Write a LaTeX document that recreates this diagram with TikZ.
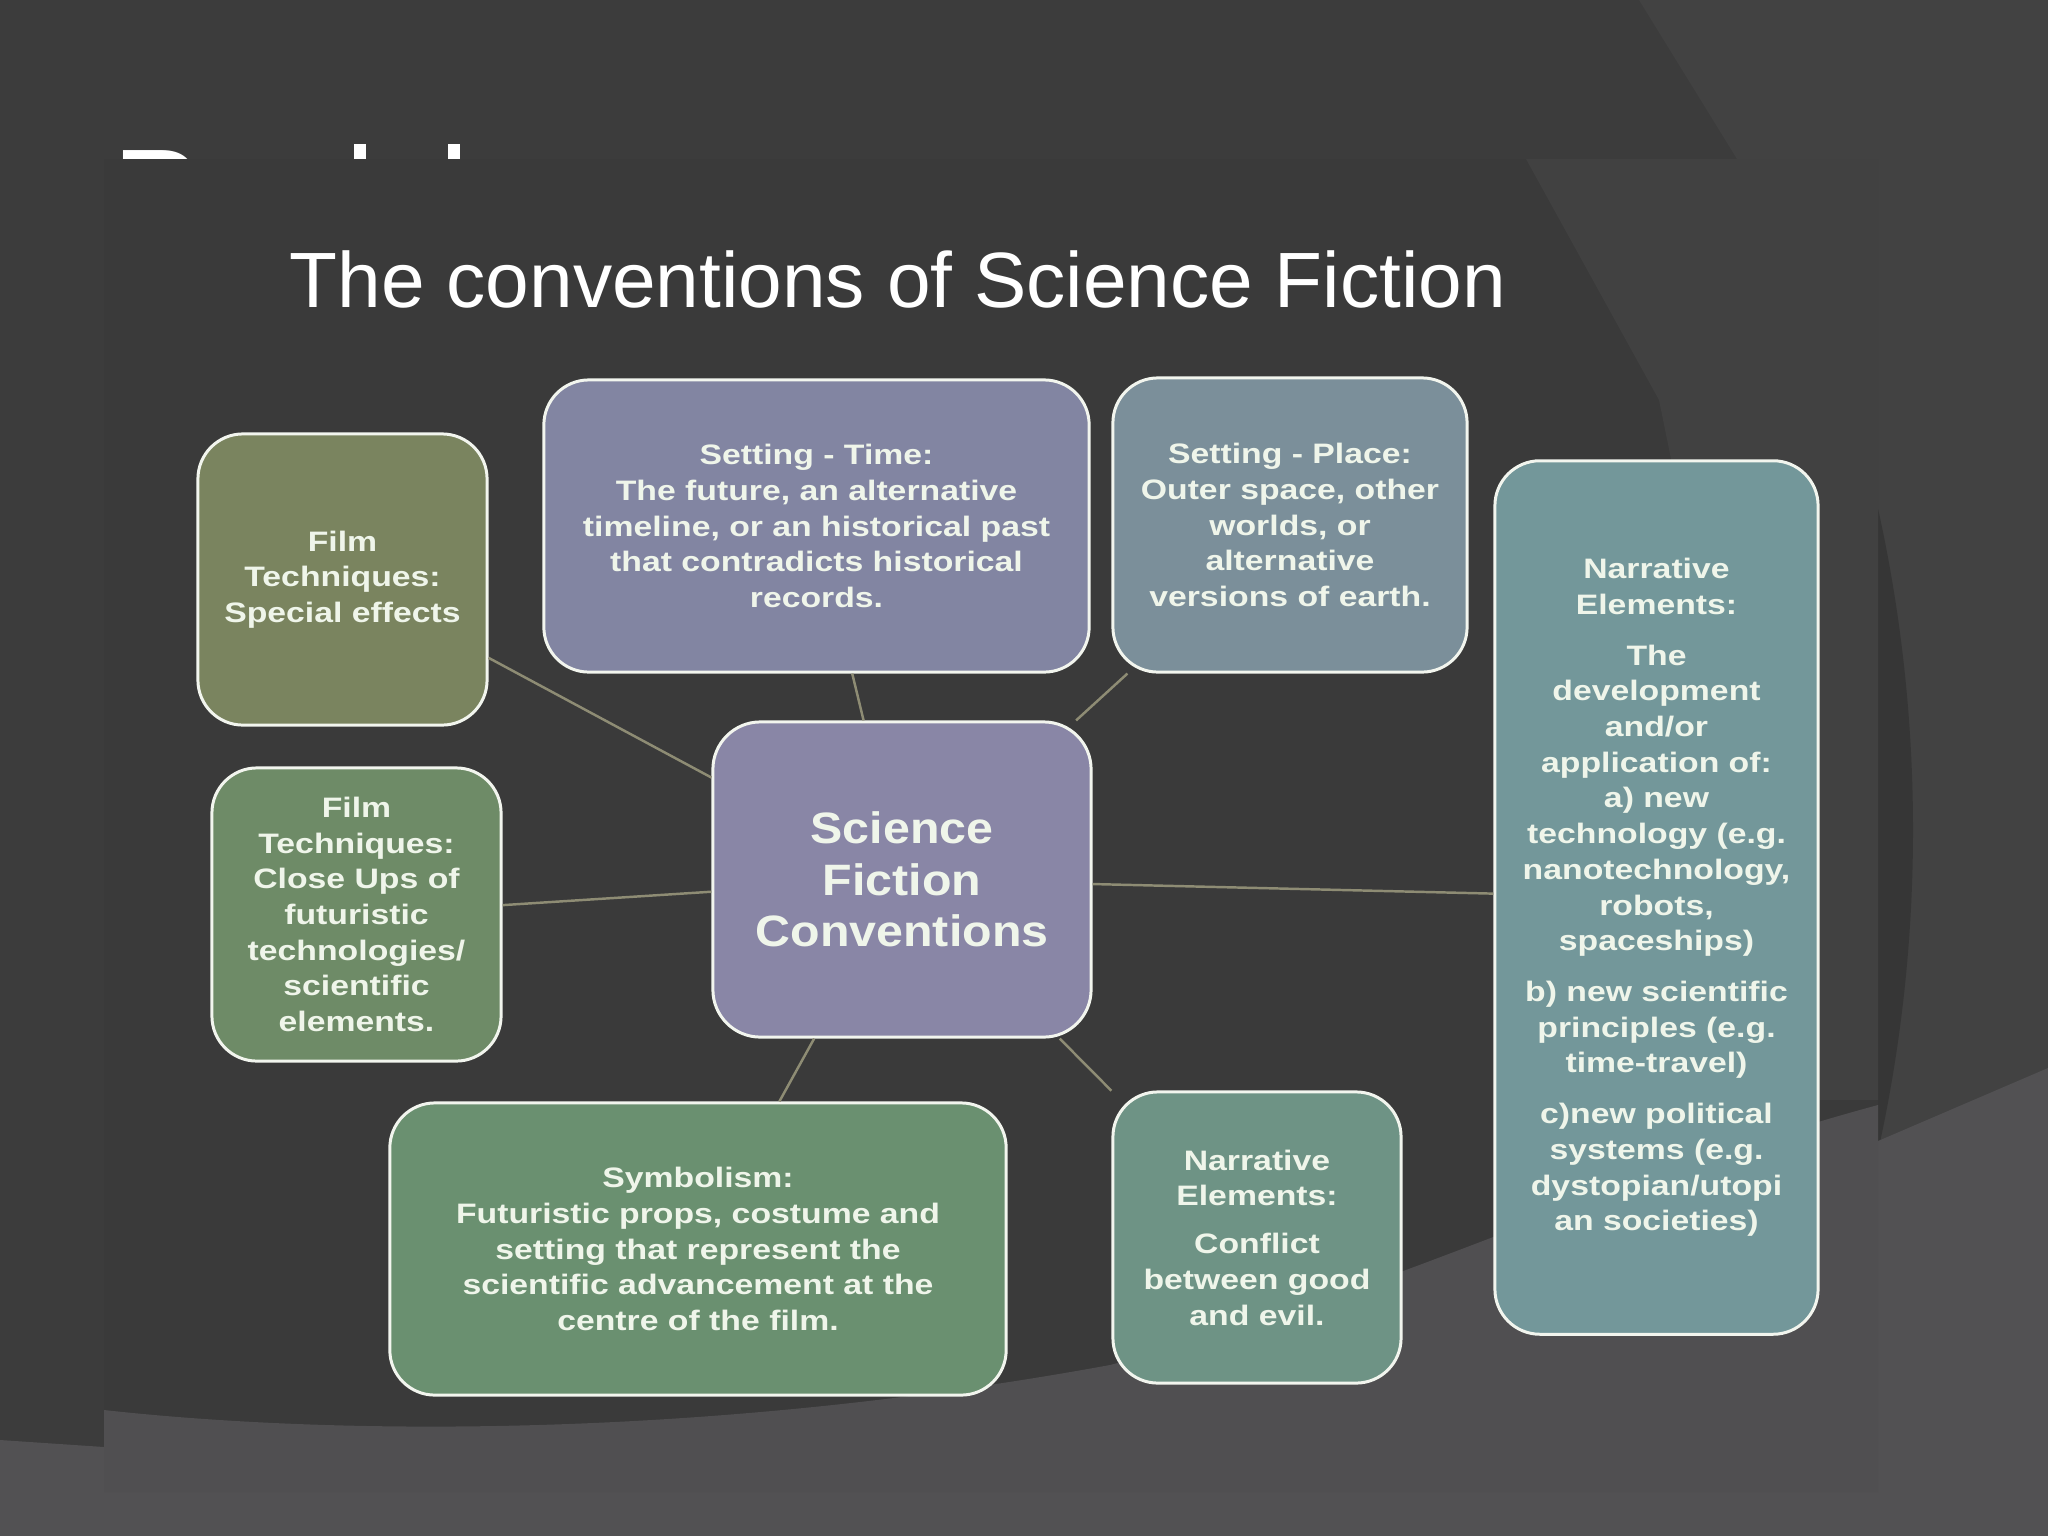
\documentclass[tikz,border=0pt]{standalone}
\usepackage{fontspec}
\setmainfont{Liberation Sans}
\newfontfamily\boxfont[FakeStretch=1.2]{Liberation Sans}
\newfontfamily\ctrfont[FakeStretch=1.1]{Liberation Sans}
\definecolor{bgdark}{HTML}{3C3C3C}
\definecolor{bgmid}{HTML}{424242}
\definecolor{bgdeep}{HTML}{363636}
\definecolor{bglight}{HTML}{525153}
\definecolor{bginner}{HTML}{3A3A3A}
\definecolor{bginmid}{HTML}{414141}
\definecolor{bglighttwo}{HTML}{504F51}
\definecolor{txtc}{HTML}{EFF5EA}
\definecolor{edgec}{HTML}{F2F5EE}
\definecolor{connc}{HTML}{8E8C74}
\definecolor{cOlive}{HTML}{7A845F}
\definecolor{cLav}{HTML}{8285A2}
\definecolor{cSlate}{HTML}{7B8F9A}
\definecolor{cTeal}{HTML}{73979A}
\definecolor{cGreen}{HTML}{6E8B67}
\definecolor{cCenter}{HTML}{8986A6}
\definecolor{cSym}{HTML}{6A9070}
\definecolor{cConf}{HTML}{6E9385}
\tikzset{
  sfbox/.style={draw=edgec, line width=0.85pt, rounded corners=12.8pt, inner sep=0pt,
    align=center, text=txtc, font=\boxfont\bfseries\fontsize{8}{10.15}\selectfont},
  ctrbox/.style={sfbox, rounded corners=13.5pt, font=\ctrfont\bfseries\fontsize{12.5}{14.7}\selectfont},
  conn/.style={draw=connc, line width=0.7pt},
  titletext/.style={text=white, inner sep=0pt, font=\fontsize{22.3}{26}\selectfont}
}
\begin{document}
\begin{tikzpicture}[x=0.01cm,y=-0.01cm]
\useasboundingbox (0,0) rectangle (2048,1536);
% ---- background ----
\fill[bgdark] (0,0) rectangle (2048,1536);
\fill[bgmid] (1639,0) -- (1737,159) -- (2048,159) -- (2048,0) -- cycle;
\fill[bgmid] (1878,159) rectangle (2048,1536);
\begin{scope}
  \clip (1878,159) rectangle (2048,1536);
  \fill[bgdeep] (433,830) circle (1480);
\end{scope}
\fill[bglight] (1878,1141) -- (2048,1068) -- (2048,1536) -- (1878,1536) -- cycle;
\fill[bglight] (0,1492) rectangle (2048,1536);
\fill[bglight] (0,1440) -- (104,1447) -- (104,1492) -- (0,1492) -- cycle;
% hidden slide title (only its tops show)
\begin{scope}
  \clip (100,100) rectangle (520,159);
  \node[anchor=base west, text=white, inner sep=0pt, font=\fontsize{38}{40}\selectfont] (hiddenP) at (112,242) {P};
  \fill[white] (354,144) rectangle (366,159);
  \fill[white] (448,144) rectangle (460,159);
\end{scope}
% pasted picture area
\fill[bginner] (104,159) rectangle (1878,1492);
\fill[bginmid] (1526,159) -- (1659,400) -- (1720,700) -- (1745,1100) -- (1878,1100) -- (1878,159) -- cycle;
\fill[bglighttwo] (104,1410) .. controls (330,1435) and (700,1440) .. (1110,1365)
   .. controls (1400,1290) and (1600,1180) .. (1878,1105) -- (1878,1492) -- (104,1492) -- cycle;
% ---- title ----
\node[titletext, anchor=base] (title) at (898,307) {The conventions of Science Fiction};
% ---- boxes ----
\node[sfbox, fill=cOlive, minimum width=2.89cm, minimum height=2.91cm] (fs) at (342.5,579.5)
  {Film\\Techniques:\\Special effects};
\node[sfbox, fill=cLav, minimum width=5.45cm, minimum height=2.92cm] (st) at (816.5,526)
  {Setting - Time:\\The future, an alternative\\timeline, or an historical past\\that contradicts historical\\records.};
\node[sfbox, fill=cSlate, minimum width=3.54cm, minimum height=2.94cm] (sp) at (1290,525)
  {Setting - Place:\\Outer space, other\\worlds, or\\alternative\\versions of earth.};
\node[sfbox, fill=cTeal, minimum width=3.23cm, minimum height=8.73cm] (ne) at (1656.5,897.5)
  {Narrative\\Elements:\\[4.3pt]The\\development\\and/or\\application of:\\a) new\\technology (e.g.\\nanotechnology,\\robots,\\spaceships)\\[4.3pt]b) new scientific\\principles (e.g.\\time-travel)\\[4.3pt]c)new political\\systems (e.g.\\dystopian/utopi\\an societies)};
\node[sfbox, fill=cGreen, minimum width=2.89cm, minimum height=2.93cm] (cu) at (356.5,914.5)
  {Film\\Techniques:\\Close Ups of\\futuristic\\technologies/\\scientific\\elements.};
\node[ctrbox, fill=cCenter, minimum width=3.78cm, minimum height=3.15cm] (sf) at (902,879.5)
  {Science\\Fiction\\Conventions};
\node[sfbox, fill=cSym, minimum width=6.16cm, minimum height=2.92cm] (sy) at (698,1249)
  {Symbolism:\\Futuristic props, costume and\\setting that represent the\\scientific advancement at the\\centre of the film.};
\node[sfbox, fill=cConf, minimum width=2.88cm, minimum height=2.91cm] (nc) at (1257,1237.5)
  {Narrative\\Elements:\\[3.5pt]Conflict\\between good\\and evil.};
% ---- connectors ----
\draw[conn] (fs) -- (sf);
\draw[conn] (st) -- (sf);
\draw[conn] (sp) -- (sf);
\draw[conn] (cu) -- (sf);
\draw[conn] (sf) -- (ne);
\draw[conn] (sf) -- (sy);
\draw[conn] (sf) -- (nc);
\end{tikzpicture}
\end{document}
